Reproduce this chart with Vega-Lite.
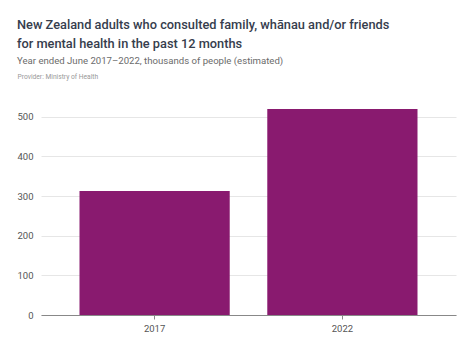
{
  "$schema": "https://vega.github.io/schema/vega-lite/v6.json",
  "width": 415,
  "height": 218,
  "padding": {"left": 16, "top": 19, "right": 18, "bottom": 10},
  "background": "white",
  "title": {
    "text": ["New Zealand adults who consulted family, whānau and/or friends", "for mental health in the past 12 months"],
    "subtitle": "Year ended June 2017–2022, thousands of people (estimated)",
    "anchor": "start",
    "frame": "bounds",
    "font": "Roboto",
    "fontSize": 12.8,
    "fontWeight": 500,
    "color": "#363d4d",
    "lineHeight": 18.5,
    "subtitleFont": "Roboto",
    "subtitleFontSize": 9.6,
    "subtitleColor": "#6b6b6b",
    "subtitlePadding": 6,
    "offset": 7
  },
  "data": {"values": [
    {"year": "2017", "people": 313},
    {"year": "2022", "people": 520}
  ]},
  "mark": {"type": "bar", "color": "#891a6f"},
  "encoding": {
    "x": {
      "field": "year", "type": "ordinal",
      "scale": {"paddingInner": 0.2, "paddingOuter": 0.205},
      "axis": {"title": null, "labelAngle": 0, "labelFont": "Roboto", "labelFontSize": 9.5, "labelColor": "#555", "domainColor": "#888", "tickColor": "#888", "tickSize": 4, "labelPadding": 4}
    },
    "y": {
      "field": "people", "type": "quantitative",
      "scale": {"domain": [0, 550], "nice": false},
      "axis": {
        "values": [0, 100, 200, 300, 400, 500],
        "title": "Provider: Ministry of Health",
        "titleAngle": 0, "titleAlign": "left", "titleBaseline": "bottom",
        "titleX": -24, "titleY": -18,
        "titleFont": "Roboto", "titleFontSize": 6.7, "titleFontWeight": 400, "titleColor": "#999",
        "labelFont": "Roboto", "labelFontSize": 9.5, "labelColor": "#555",
        "domain": false, "ticks": false, "labelPadding": 8,
        "gridColor": "#e6e6e6"
      }
    }
  },
  "config": {"view": {"stroke": null}}
}
